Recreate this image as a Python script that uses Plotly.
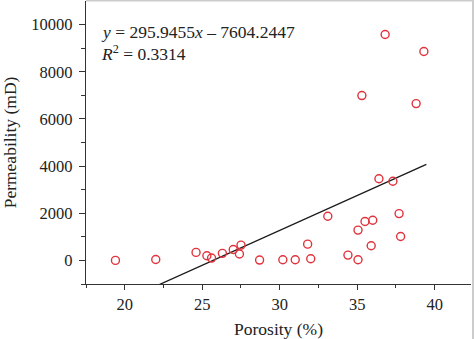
import plotly.graph_objects as go

porosity = [19.4, 22.0, 24.6, 25.3, 25.6, 26.3, 27.0, 27.4, 27.5, 28.7, 30.2, 31.0,
            31.8, 32.0, 33.1, 34.4, 35.05, 35.05, 35.3, 35.5, 35.9, 36.0, 36.4, 36.8,
            37.3, 37.7, 37.8, 38.8, 39.3]
permeability = [0, 40, 340, 200, 100, 300, 465, 270, 650, 15, 30, 30,
                690, 70, 1875, 225, 30, 1285, 6990, 1650, 620, 1705, 3465, 9580,
                3355, 1985, 1015, 6650, 8860]

slope = 295.9455
intercept = -7604.2447
fit_x = [19.4, 39.46]
fit_y = [slope * v + intercept for v in fit_x]

x_ticks = [20, 25, 30, 35, 40]
x_labels = ["20", "25", "30", "35", "40"]
y_ticks = [0, 2000, 4000, 6000, 8000, 10000]
y_labels = ["0", "2000", "4000", "6000", "8000", "10000"]

W, H = 474, 339
L, R, T, B = 86, 3, 1, 55

font_family = "Liberation Serif, Times New Roman, serif"
tick_color = "#333333"

fig = go.Figure()
fig.add_trace(go.Scatter(
    x=fit_x, y=fit_y, mode="lines",
    line=dict(color="#1a1a1a", width=1.3),
    showlegend=False, hoverinfo="skip"))
fig.add_trace(go.Scatter(
    x=porosity, y=permeability, mode="markers",
    marker=dict(symbol="circle-open", size=8, color="#e0323c",
                line=dict(width=1.4, color="#e0323c")),
    showlegend=False))

fig.update_layout(
    width=W, height=H,
    margin=dict(l=L, r=R, t=T, b=B),
    paper_bgcolor="white", plot_bgcolor="white",
    font=dict(family=font_family, size=16, color="#222222"),
    xaxis=dict(
        range=[17.5, 42.34], tickvals=x_ticks, ticktext=x_labels, ticks="outside", ticklen=5,
        tickwidth=1, tickcolor=tick_color, showline=True, linecolor=tick_color,
        linewidth=1.3, showgrid=False, zeroline=False,
        tickfont=dict(size=16.5),
        minor=dict(ticks="outside", ticklen=3, tickcolor=tick_color,
                   tickvals=[17.5, 22.5, 27.5, 32.5, 37.5], showgrid=False),
        title=dict(text="Porosity (%)", font=dict(size=17.5), standoff=10),
    ),
    yaxis=dict(
        range=[-1000, 11000], tickvals=y_ticks, ticktext=y_labels, ticks="outside", ticklen=6,
        tickwidth=1, tickcolor=tick_color, showline=True, linecolor=tick_color,
        linewidth=1.3, showgrid=False, zeroline=False,
        tickfont=dict(size=16.5), ticklabelstandoff=3,
        minor=dict(ticks="outside", ticklen=4, tickcolor=tick_color,
                   tickvals=[-1000, 1000, 3000, 5000, 7000, 9000], showgrid=False),
        title=dict(text="Permeability (mD)", font=dict(size=17.5), standoff=14),
    ),
)

pw = W - L - R
ph = H - T - B
def px_x(p):
    return (p - L) / pw
def px_y(p):
    return 1 - (p - T) / ph

fig.add_annotation(xref="paper", yref="paper", x=px_x(99), y=px_y(32),
                   xanchor="left", yanchor="middle", showarrow=False,
                   text="<i>y</i> = 295.9455<i>x</i> \u2013 7604.2447",
                   font=dict(size=17.5, color="#222222"))
fig.add_annotation(xref="paper", yref="paper", x=px_x(99), y=px_y(53),
                   xanchor="left", yanchor="middle", showarrow=False,
                   text="<i>R</i><sup>2</sup> = 0.3314",
                   font=dict(size=17.5, color="#222222"))

# light frame at top and right edges of the image
fig.add_shape(type="line", xref="paper", yref="paper", x0=px_x(86), x1=px_x(474),
              y0=px_y(0.5), y1=px_y(0.5), line=dict(color="#cccccc", width=2))
fig.add_shape(type="line", xref="paper", yref="paper", x0=px_x(473), x1=px_x(473),
              y0=px_y(0), y1=px_y(339), line=dict(color="#cccccc", width=2))

fig.write_html("out.html")
